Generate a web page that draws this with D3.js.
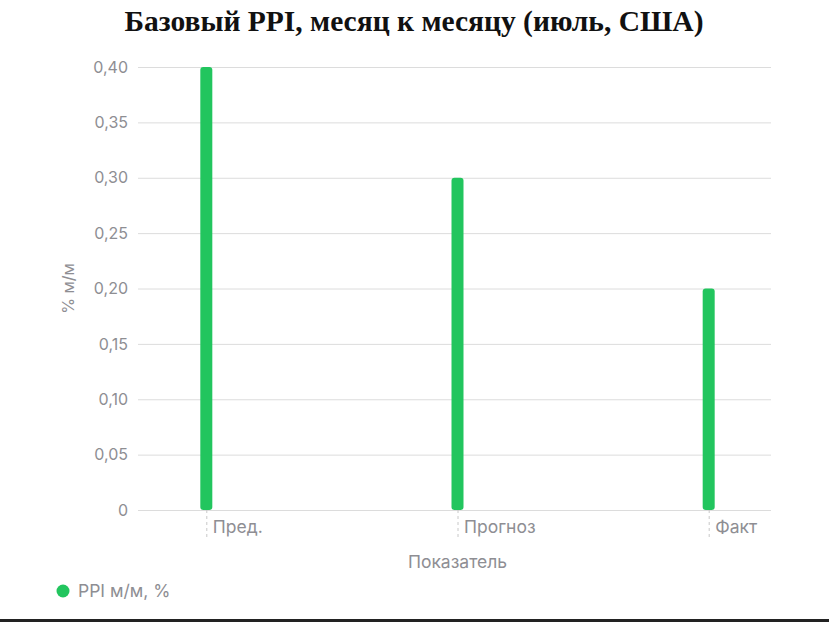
<!DOCTYPE html>
<html>
<head>
<meta charset="utf-8">
<script src="https://cdn.jsdelivr.net/npm/d3@7"></script>
<style>
  body { margin: 0; background: #fff; }
  svg { display: block; }
</style>
</head>
<body>
<div id="chart"></div>
<script>
const categories = ['Пред.', 'Прогноз', 'Факт'];
const values = [0.40, 0.30, 0.20];
const yTicks = [0, 0.05, 0.10, 0.15, 0.20, 0.25, 0.30, 0.35, 0.40];
const seriesName = 'PPI м/м, %';

const width = 829, height = 622;
const margin = { top: 67, right: 58, bottom: 112, left: 138 };
const green = '#22c55e';
const grey = '#8e8e93';
const sans = 'Inter, Roboto, "Noto Sans", sans-serif';

const svg = d3.select('#chart').append('svg')
  .attr('width', width)
  .attr('height', height);

svg.append('text')
  .attr('x', 414)
  .attr('y', 31)
  .attr('text-anchor', 'middle')
  .attr('font-family', '"Liberation Serif", serif')
  .attr('font-weight', 'bold')
  .attr('font-size', 29.5)
  .attr('fill', '#111')
  .text('Базовый PPI, месяц к месяцу (июль, США)');

const x = d3.scalePoint()
  .domain(categories)
  .range([margin.left + 3, width - margin.right + 3])
  .padding(0.26);

const y = d3.scaleLinear()
  .domain([0, 0.40])
  .range([height - margin.bottom, margin.top]);

// grid + y labels
const yAxis = svg.append('g')
  .attr('transform', `translate(${margin.left},0)`)
  .call(d3.axisLeft(y).tickValues(yTicks)
    .tickSize(-(width - margin.left - margin.right))
    .tickPadding(10)
    .tickFormat(d => d === 0 ? '0' : d3.format('.2f')(d).replace('.', ',')));
yAxis.select('.domain').remove();
yAxis.selectAll('line').attr('stroke', '#dcdcdc');
yAxis.selectAll('text')
  .attr('fill', grey)
  .attr('font-family', sans)
  .attr('font-size', 16);

// x axis: dashed ticks, labels to the right
const xAxis = svg.append('g')
  .attr('transform', `translate(0,${height - margin.bottom})`)
  .call(d3.axisBottom(x).tickSize(27).tickPadding(0));
xAxis.select('.domain').remove();
xAxis.selectAll('line')
  .attr('stroke', '#c8c8c8')
  .attr('stroke-dasharray', '3,3');
xAxis.selectAll('text')
  .attr('fill', grey)
  .attr('font-family', sans)
  .attr('font-size', 17.5)
  .attr('text-anchor', 'start')
  .attr('x', 6)
  .attr('y', 11)
  .attr('dy', '0.71em');

// bars
const barW = 12;
svg.append('g')
  .selectAll('rect')
  .data(values)
  .join('rect')
  .attr('x', (d, i) => x(categories[i]) - barW / 2)
  .attr('y', d => y(d))
  .attr('width', barW)
  .attr('height', d => y(0) - y(d))
  .attr('rx', 3)
  .attr('fill', green);

// axis titles
svg.append('text')
  .attr('x', x(categories[1]))
  .attr('y', 568)
  .attr('text-anchor', 'middle')
  .attr('font-family', sans)
  .attr('font-size', 17.5)
  .attr('fill', grey)
  .text('Показатель');

svg.append('text')
  .attr('transform', `translate(74,${(y(0) + y(0.40)) / 2}) rotate(-90)`)
  .attr('text-anchor', 'middle')
  .attr('font-family', sans)
  .attr('font-size', 16)
  .attr('fill', grey)
  .text('% м/м');

// legend
const legend = svg.append('g').attr('transform', 'translate(63,591)');
legend.append('circle').attr('r', 6.5).attr('fill', green);
legend.append('text')
  .attr('x', 15)
  .attr('dy', '0.35em')
  .attr('font-family', sans)
  .attr('font-size', 17.5)
  .attr('fill', grey)
  .text(seriesName);

// bottom rule
svg.append('rect')
  .attr('x', 0).attr('y', 619)
  .attr('width', width).attr('height', 3)
  .attr('fill', '#222');
</script>
</body>
</html>
